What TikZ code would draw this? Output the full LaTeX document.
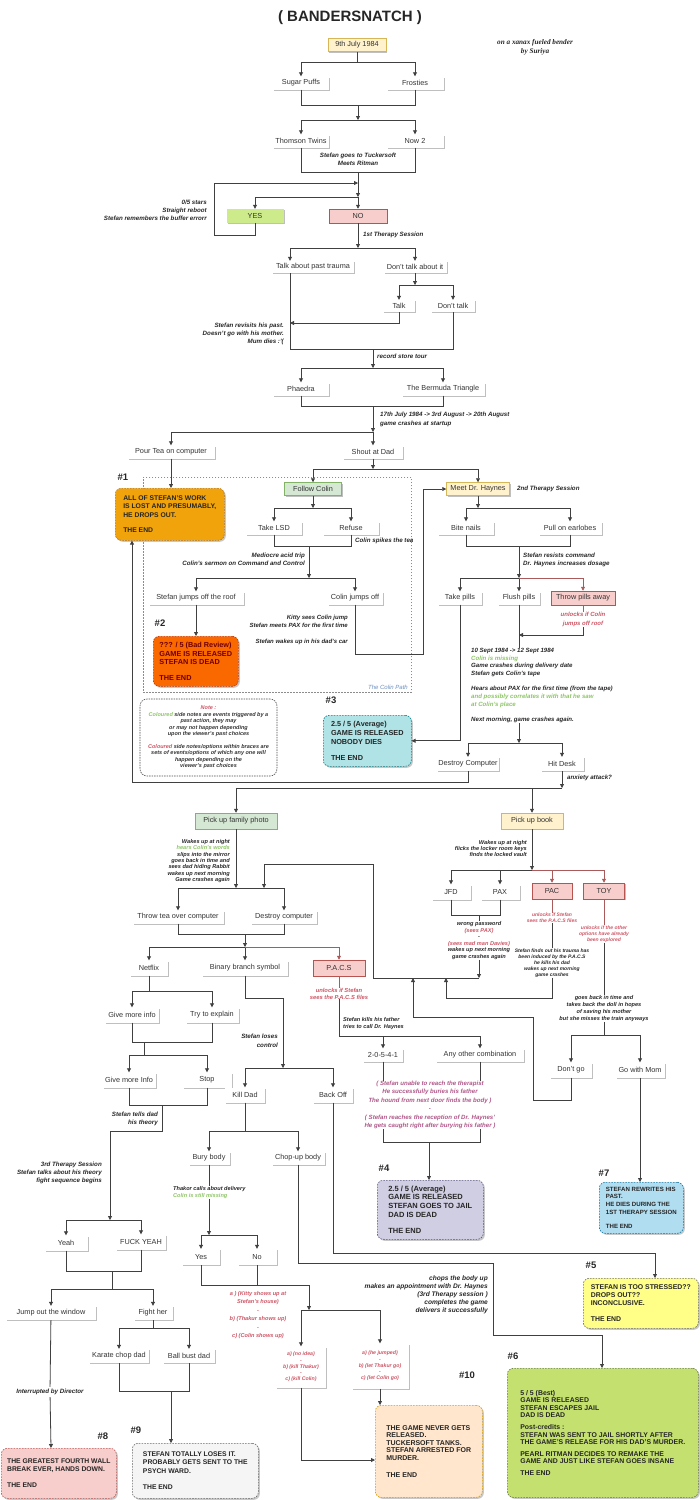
\documentclass[tikz,border=0pt]{standalone}
\usepackage{fontspec}
\setmainfont{Liberation Sans}
\newfontfamily\signfont{Liberation Serif}
\usepackage{xcolor}
\usepackage{tikz}
\usetikzlibrary{arrows.meta,shadows}
\definecolor{yelF}{RGB}{255,242,204}
\definecolor{yelD}{RGB}{214,182,86}
\definecolor{grnF}{RGB}{213,232,212}
\definecolor{grnD}{RGB}{130,179,102}
\definecolor{pkF}{RGB}{248,206,204}
\definecolor{pkD}{RGB}{184,84,80}
\definecolor{limeF}{RGB}{205,235,139}
\definecolor{arrowred}{RGB}{170,90,90}
\definecolor{greent}{RGB}{140,196,100}
\definecolor{pinkt}{RGB}{205,85,100}
\definecolor{mauve}{RGB}{175,85,135}
\definecolor{bluet}{RGB}{108,142,191}
\definecolor{c1F}{RGB}{240,163,10}
\definecolor{c1D}{RGB}{189,112,0}
\definecolor{c2F}{RGB}{250,104,0}
\definecolor{c2D}{RGB}{199,53,0}
\definecolor{c2T}{RGB}{111,0,0}
\definecolor{c3F}{RGB}{176,227,230}
\definecolor{c3D}{RGB}{14,128,136}
\definecolor{c4F}{RGB}{208,206,226}
\definecolor{c4D}{RGB}{86,81,126}
\definecolor{c5F}{RGB}{255,255,136}
\definecolor{c5D}{RGB}{110,110,90}
\definecolor{c6F}{RGB}{196,225,112}
\definecolor{c6D}{RGB}{100,120,60}
\definecolor{c7F}{RGB}{177,221,240}
\definecolor{c7D}{RGB}{16,115,158}
\definecolor{c9F}{RGB}{245,245,245}
\definecolor{c9D}{RGB}{102,102,102}
\definecolor{c10F}{RGB}{255,230,204}
\definecolor{c10D}{RGB}{215,155,0}

\begin{document}
\begin{tikzpicture}[x=1pt,y=-1pt,
  n/.style={rectangle,fill=white,minimum height=13pt,inner sep=1pt,text=black!80,font=\fontsize{7.3}{8.5}\selectfont,drop shadow={shadow xshift=1.2pt,shadow yshift=-1.2pt,fill=black!25,opacity=1}},
  ny/.style={n,fill=yelF,draw=yelD,line width=0.5pt},
  ng/.style={n,fill=grnF,draw=grnD,line width=0.5pt},
  np/.style={n,fill=pkF,draw=pkD,line width=0.5pt},
  e/.style={rectangle,rounded corners=6pt,draw,line width=0.6pt,dash pattern=on 1.6pt off 1.2pt,anchor=north west,align=left,inner sep=3pt,text=black!85,drop shadow={shadow xshift=1.5pt,shadow yshift=-1.5pt,fill=black!22,opacity=1}},
  a/.style={-{Triangle[length=4pt,width=4pt]},line width=0.8pt,draw=black!75},
  l/.style={line width=0.8pt,draw=black!75},
  ar/.style={a,draw=arrowred},
  lr/.style={l,draw=arrowred},
  t/.style={inner sep=0pt,text=black!85,font=\bfseries\itshape\fontsize{6.2}{8}\selectfont},
  ts/.style={inner sep=0pt,text=black!85,font=\bfseries\itshape\fontsize{5.6}{6.4}\selectfont},
  tx/.style={inner sep=0pt,text=black!85,font=\bfseries\itshape\fontsize{5}{6}\selectfont},
  h/.style={inner sep=0pt,text=black!85,font=\bfseries\fontsize{9.5}{10}\selectfont}
]
\useasboundingbox (0,0) rectangle (700,1500);

\node[font=\bfseries\fontsize{15}{18}\selectfont,text=black!85] (title) at (350,18) {( BANDERSNATCH )};
\node[font=\signfont\bfseries\itshape\fontsize{7.2}{9}\selectfont,align=center,text=black!85] (sign) at (535,47.5) {on a xanax fueled bender\\by Suriya};

\node[ny,minimum width=58] (july) at (357,45) {9th July 1984};
\node[n,minimum width=56] (sugar) at (301,83) {Sugar Puffs};
\node[n,minimum width=57] (frost) at (415,83) {Frosties};
\node[n,minimum width=56] (thomson) at (301,141) {Thomson Twins};
\node[n,minimum width=57] (now2) at (415,141) {Now 2};
\node[n,fill=limeF,minimum width=57,minimum height=14] (yes) at (255,216) {YES};
\node[np,minimum width=58,minimum height=14] (no) at (358,216) {NO};
\node[n,minimum width=82,minimum height=12] (trauma) at (313,267) {Talk about past trauma};
\node[n,minimum width=63,minimum height=12] (notalk) at (415,267) {Don't talk about it};
\node[n,minimum width=32,minimum height=12] (talk) at (399,306) {Talk};
\node[n,minimum width=44,minimum height=12] (donttalk) at (453,306) {Don't talk};
\node[n,minimum width=56] (phaedra) at (301,389) {Phaedra};
\node[n,minimum width=83] (bermuda) at (443,389) {The Bermuda Triangle};
\node[n,minimum width=87] (pourtea) at (171,452) {Pour Tea on computer};
\node[n,minimum width=60] (shout) at (373,452) {Shout at Dad};

\node[draw=black!45,dash pattern=on 1.5pt off 1.5pt,line width=0.6pt,minimum width=268,minimum height=215,anchor=north west,inner sep=0pt] (colinpath) at (143,477) {};
\node[inner sep=0pt,anchor=east,text=bluet,font=\itshape\fontsize{6}{7}\selectfont] (pathlbl) at (408,687) {The Colin Path};

\node[ng,minimum width=57] (follow) at (313,489) {Follow Colin};
\node[ny,minimum width=63] (haynes) at (478,489) {Meet Dr. Haynes};
\node[n,minimum width=56] (lsd) at (274,528) {Take LSD};
\node[n,minimum width=56] (refuse) at (351,528) {Refuse};
\node[n,minimum width=95] (jumproof) at (196,598) {Stefan jumps off the roof};
\node[n,minimum width=55] (colinjump) at (355,598) {Colin jumps off};
\node[n,minimum width=56] (bite) at (466,528) {Bite nails};
\node[n,minimum width=63] (pull) at (570,528) {Pull on earlobes};
\node[n,minimum width=44] (takep) at (460,598) {Take pills};
\node[n,minimum width=42] (flush) at (519,598) {Flush pills};
\node[np,minimum width=64,minimum height=14] (throwp) at (583,598) {Throw pills away};
\node[n,minimum width=62,minimum height=14] (destroyC) at (468,764) {Destroy Computer};
\node[n,minimum width=43,minimum height=14] (hitdesk) at (562,764) {Hit Desk};

\node[ng,minimum width=82,minimum height=16] (photo) at (236,821) {Pick up family photo};
\node[ny,minimum width=62,minimum height=16] (book) at (532,821) {Pick up book};
\node[n,minimum width=91] (throwtea) at (178,917) {Throw tea over computer};
\node[n,minimum width=66] (destroyc2) at (284,917) {Destroy computer};
\node[n,minimum width=38,minimum height=15] (netflix) at (149,968) {Netflix};
\node[n,minimum width=86,minimum height=15] (binary) at (245,968) {Binary branch symbol};
\node[np,minimum width=52,minimum height=16] (pacs) at (339,968) {P.A.C.S};
\node[n,minimum width=39,minimum height=15] (jfd) at (451,892) {JFD};
\node[n,minimum width=39,minimum height=15] (pax) at (500,892) {PAX};
\node[np,minimum width=40,minimum height=16] (pac) at (552,891) {PAC};
\node[np,minimum width=41,minimum height=16] (toy) at (604,891) {TOY};
\node[n,minimum width=54,minimum height=15] (gmi1) at (132,1015) {Give more info};
\node[n,minimum width=53,minimum height=15] (explain) at (212,1015) {Try to explain};
\node[n,minimum width=53,minimum height=15] (gmi2) at (129,1080) {Give more Info};
\node[n,minimum width=49,minimum height=15] (stop) at (207,1080) {Stop};
\node[n,minimum width=40,minimum height=15] (killdad) at (245,1095) {Kill Dad};
\node[n,minimum width=40,minimum height=15] (backoff) at (333,1095) {Back Off};
\node[n,minimum width=40] (code) at (383,1055) {2-0-5-4-1};
\node[n,minimum width=88] (anycomb) at (480,1055) {Any other combination};
\node[n,minimum width=42,minimum height=15] (dontgo) at (571,1070) {Don't go};
\node[n,minimum width=49,minimum height=15] (gomom) at (640,1070) {Go with Mom};
\node[n,minimum width=41] (bury) at (209,1158) {Bury body};
\node[n,minimum width=53] (chop) at (298,1158) {Chop-up body};
\node[n,minimum width=43,minimum height=15] (yeah) at (66,1243) {Yeah};
\node[n,minimum width=50,minimum height=15] (fyeah) at (141,1242) {FUCK YEAH};
\node[n,minimum width=38,minimum height=16] (yes2) at (201,1257) {Yes};
\node[n,minimum width=39,minimum height=16] (no2) at (257,1257) {No};
\node[n,minimum width=90,minimum height=14] (jump) at (51,1313) {Jump out the window};
\node[n,minimum width=39,minimum height=14] (fight) at (153,1313) {Fight her};
\node[n,minimum width=60,minimum height=14] (karate) at (119,1356) {Karate chop dad};
\node[n,minimum width=52,minimum height=14] (ball) at (189,1356) {Ball bust dad};
\node[n,minimum width=50,minimum height=41,align=center,text=pinkt,font=\bfseries\itshape\fontsize{5.2}{6.2}\selectfont] (optA) at (301,1367) {a) (no idea)\\-\\b) (kill Thakur)\\-\\c) (kill Colin)};
\node[n,minimum width=57,minimum height=45,align=center,text=pinkt,font=\bfseries\itshape\fontsize{5.2}{6.2}\selectfont] (optB) at (380,1366) {a) (he jumped)\\-\\b) (let Thakur go)\\-\\c) (let Colin go)};

\node[e,fill=c1F,draw=c1D,minimum width=109,minimum height=52,font=\bfseries\fontsize{6.8}{8.5}\selectfont] (end1) at (115,488) {ALL OF STEFAN'S WORK\\IS LOST AND PRESUMABLY,\\HE DROPS OUT.\\[7pt]THE END};
\node[e,fill=c2F,draw=c2D,text=c2T,minimum width=85,minimum height=50,font=\bfseries\fontsize{7.3}{8.8}\selectfont] (end2) at (153,636) {??? / 5 (Bad Review)\\GAME IS RELEASED\\STEFAN IS DEAD\\[7pt]THE END};
\node[e,fill=c3F,draw=c3D,minimum width=88,minimum height=51,font=\bfseries\fontsize{7.3}{8.8}\selectfont] (end3) at (323,715) {2.5 / 5 (Average)\\GAME IS RELEASED\\NOBODY DIES\\[7pt]THE END};
\node[e,fill=c4F,draw=c4D,minimum width=106,minimum height=59,font=\bfseries\fontsize{7.5}{8.6}\selectfont] (end4) at (377,1180) {2.5 / 5 (Average)\\GAME IS RELEASED\\STEFAN GOES TO JAIL\\DAD IS DEAD\\[8pt]THE END};
\node[e,fill=c5F,draw=c5D,minimum width=115,minimum height=50,font=\bfseries\fontsize{6.9}{8}\selectfont] (end5) at (583,1278) {STEFAN IS TOO STRESSED??\\DROPS OUT??\\INCONCLUSIVE.\\[8pt]THE END};
\node[e,fill=c6F,draw=c6D,minimum width=191,minimum height=129,font=\bfseries\fontsize{6.9}{7.6}\selectfont] (end6) at (507,1368) {5 / 5 (Best)\\GAME IS RELEASED\\STEFAN ESCAPES JAIL\\DAD IS DEAD\\[4pt]Post-credits :\\STEFAN WAS SENT TO JAIL SHORTLY AFTER\\THE GAME'S RELEASE FOR HIS DAD'S MURDER.\\[4pt]PEARL RITMAN DECIDES TO REMAKE THE\\GAME AND JUST LIKE STEFAN GOES INSANE\\[4pt]THE END};
\node[e,fill=c7F,draw=c7D,minimum width=84,minimum height=51,font=\bfseries\fontsize{6.1}{7.7}\selectfont] (end7) at (599,1182) {STEFAN REWRITES HIS\\PAST.\\HE DIES DURING THE\\1ST THERAPY SESSION\\[7pt]THE END};
\node[e,fill=pkF,draw=pkD,minimum width=115,minimum height=50,font=\bfseries\fontsize{6.8}{8.3}\selectfont] (end8) at (1,1448) {THE GREATEST FOURTH WALL\\BREAK EVER, HANDS DOWN.\\[8pt]THE END};
\node[e,fill=c9F,draw=c9D,minimum width=126,minimum height=55,font=\bfseries\fontsize{6.8}{8.5}\selectfont] (end9) at (132,1443) {STEFAN TOTALLY LOSES IT.\\PROBABLY GETS SENT TO THE\\PSYCH WARD.\\[8pt]THE END};
\node[e,fill=c10F,draw=c10D,minimum width=107,minimum height=92,font=\bfseries\fontsize{7}{7.5}\selectfont] (end10) at (375,1405) {THE GAME NEVER GETS\\RELEASED.\\TUCKERSOFT TANKS.\\STEFAN ARRESTED FOR\\MURDER.\\[10pt]THE END};

\node[h] (h1) at (123,477) {\#1};
\node[h] (h2) at (160,623) {\#2};
\node[h] (h3) at (331,700) {\#3};
\node[h] (h4) at (384,1168) {\#4};
\node[h] (h5) at (591,1265) {\#5};
\node[h] (h6) at (513,1356) {\#6};
\node[h] (h7) at (604,1173) {\#7};
\node[h] (h8) at (103,1436) {\#8};
\node[h] (h9) at (136,1430) {\#9};
\node[h] (h10) at (467,1375) {\#10};

\node[draw=black!70,rounded corners=7pt,dash pattern=on 1.5pt off 1pt,line width=0.6pt,minimum width=137,minimum height=77,align=center,text=black!80,font=\bfseries\itshape\fontsize{5.5}{6.44}\selectfont] (note) at (208.5,737.5) {\textcolor{pinkt}{Note :}\\\textcolor{greent}{Coloured} side notes are events triggered by a\\past action, they may\\or may not happen depending\\upon the viewer's past choices\\[6.44pt]\textcolor{pinkt}{Coloured} side notes/options within braces are\\sets of events/options of which any one will\\happen depending on the\\viewer's past choices};

\node[t,align=center] (tucker) at (358,159) {Stefan goes to Tuckersoft\\Meets Ritman};
\node[t,align=right,anchor=east] (stars) at (207,210) {0/5 stars\\Straight reboot\\Stefan remembers the buffer errorr};
\node[t,anchor=west] (ther1) at (363,235) {1st Therapy Session};
\node[t,align=right,anchor=east] (revisit) at (284,334) {Stefan revisits his past.\\Doesn't go with his mother.\\Mum dies :'(};
\node[t,anchor=west] (record) at (377,356) {record store tour};
\node[t,align=left,anchor=west,font=\bfseries\itshape\fontsize{6.2}{9}\selectfont] (crash1) at (380,419.5) {17th July 1984 -> 3rd August -> 20th August\\game crashes at startup};
\node[t,anchor=west] (ther2) at (517,489) {2nd Therapy Session};
\node[t,anchor=west] (spike) at (355,541) {Colin spikes the tea};
\node[t,align=right,anchor=east] (acid) at (305,559.5) {Mediocre acid trip\\Colin's sermon on Command and Control};
\node[t,align=right,anchor=east,font=\bfseries\itshape\fontsize{6}{8}\selectfont] (kitty) at (348,621.5) {Kitty sees Colin jump\\Stefan meets PAX for the first time};
\node[t,anchor=east,font=\bfseries\itshape\fontsize{6}{8}\selectfont] (wakecar) at (348,642) {Stefan wakes up in his dad's car};
\node[t,align=left,anchor=west] (resist) at (523,559.5) {Stefan resists command\\Dr. Haynes increases dosage};
\node[t,align=center,text=pinkt,font=\bfseries\itshape\fontsize{6}{9}\selectfont] (unlock1) at (583,619.5) {unlocks if Colin\\jumps off roof};
\node[t,align=left,anchor=west,font=\bfseries\itshape\fontsize{6.1}{7.67}\selectfont] (sept) at (471,685.5) {10 Sept 1984 -> 12 Sept 1984\\\textcolor{greent}{Colin is missing}\\Game crashes during delivery date\\Stefan gets Colin's tape\\[7.67pt]Hears about PAX for the first time (from the tape)\\\textcolor{greent}{and possibly correlates it with that he saw}\\\textcolor{greent}{at Colin's place}\\[7.67pt]Next morning, game crashes again.};
\node[t,anchor=west] (anxiety) at (567,778) {anxiety attack?};
\node[ts,align=right,anchor=east] (mirror) at (230,861) {Wakes up at night\\\textcolor{greent}{hears Colin's words}\\slips into the mirror\\goes back in time and\\sees dad hiding Rabbit\\wakes up next morning\\Game crashes again};
\node[ts,align=right,anchor=east] (vault) at (527,848.5) {Wakes up at night\\flicks the locker room keys\\finds the locked vault};
\node[ts,align=center,font=\bfseries\itshape\fontsize{5.6}{6.6}\selectfont] (pwd) at (479,940.5) {wrong password\\\textcolor{pinkt}{(sees PAX)}\\-\\\textcolor{pinkt}{(sees mad man Davies)}\\wakes up next morning\\game crashes again};
\node[tx,align=center,text=pinkt] (unlock2) at (552,918) {unlocks if Stefan\\sees the P.A.C.S files};
\node[tx,align=center] (pacsnote) at (552,963) {Stefan finds out his trauma has\\been induced by the P.A.C.S\\he kills his dad\\wakes up next morning\\game crashes};
\node[tx,align=center,text=pinkt] (unlock3) at (604,934) {unlocks if the other\\options have already\\been explored};
\node[ts,align=center,font=\bfseries\itshape\fontsize{5.6}{7}\selectfont] (doll) at (604,1008.5) {goes back in time and\\takes back the doll in hopes\\of saving his mother\\but she misses the train anyways};
\node[t,align=center,text=pinkt,font=\bfseries\itshape\fontsize{5.8}{7}\selectfont] (unlock4) at (339,993.5) {unlocks if Stefan\\sees the P.A.C.S files};
\node[ts,align=left,anchor=west,font=\bfseries\itshape\fontsize{5.6}{7}\selectfont] (kills) at (343,1023.5) {Stefan kills his father\\tries to call Dr. Haynes};
\node[t,align=center,text=mauve,font=\bfseries\itshape\fontsize{6.1}{8.4}\selectfont] (opts) at (430,1105) {( Stefan unable to reach the therapist\\He successfully buries his father\\The hound from next door finds the body )\\-\\( Stefan reaches the reception of Dr. Haynes'\\He gets caught right after burying his father )};
\node[t,align=right,anchor=east,font=\bfseries\itshape\fontsize{6.2}{9}\selectfont] (loses) at (278,1040.5) {Stefan loses\\control};
\node[t,align=right,anchor=east] (tells) at (158,1119) {Stefan tells dad\\his theory};
\node[t,align=right,anchor=east] (third) at (102,1173) {3rd Therapy Session\\Stefan talks about his theory\\fight sequence begins};
\node[ts,align=left,anchor=west,font=\bfseries\itshape\fontsize{5.6}{7}\selectfont] (thakor) at (173,1192.5) {Thakor calls about delivery\\\textcolor{greent}{Colin is still missing}};
\node[ts,align=center,text=pinkt,font=\bfseries\itshape\fontsize{5.6}{8.4}\selectfont] (abc) at (258,1315) {a ) (Kitty shows up at\\Stefan's house)\\-\\b) (Thakur shows up)\\-\\c) (Colin shows up)};
\node[t,fill=white,inner ysep=2pt] (director) at (50,1392) {Interrupted by Director};
\node[t,align=right,anchor=east,font=\bfseries\itshape\fontsize{6.6}{8}\selectfont] (chops) at (488,1295) {chops the body up\\makes an appointment with Dr. Haynes\\(3rd Therapy session )\\completes the game\\delivers it successfully};

\coordinate (j1) at (357,62);
\draw[l] (july) -- (j1);
\draw[a] (j1) -| (sugar);
\draw[a] (j1) -| (frost);
\coordinate (j2) at (358,105);
\coordinate (j3) at (358,120);
\draw[l] (sugar) |- (j2);
\draw[l] (frost) |- (j2);
\draw[a] (j2) -- (j3);
\draw[a] (j3) -| (thomson);
\draw[a] (j3) -| (now2);
\coordinate (j4) at (358,172);
\coordinate (j5) at (358,183);
\coordinate (j6) at (358,197);
\draw[l] (thomson) |- (j4);
\draw[l] (now2) |- (j4);
\draw[a] (j4) -- (j6);
\draw[a] (j6) -| (yes);
\draw[a] (j6) -- (no);
\coordinate (j7) at (214,235);
\draw[a] (yes) |- (j7) |- (j5);
\coordinate (j8) at (358,248);
\coordinate (j9) at (290,349);
\draw[a] (no) -- (j8);
\draw[a] (j8) -| (trauma.north -| j9);
\draw[a] (j8) -| (notalk);
\coordinate (j10) at (415,285);
\draw[a] (notalk) -- (j10);
\draw[a] (j10) -| (talk);
\draw[a] (j10) -| (donttalk);
\coordinate (j11) at (290,323);
\draw[a] (talk) |- (j11);
\coordinate (j12) at (373,349);
\draw[l] (trauma.south -| j9) -- (j9) -- (j12);
\draw[l] (donttalk) |- (j12);
\coordinate (j13) at (373,368);
\draw[a] (j12) -- (j13);
\draw[a] (j13) -| (phaedra);
\draw[a] (j13) -| (bermuda);
\coordinate (j14) at (373,406);
\coordinate (j15) at (373,432);
\draw[l] (phaedra) |- (j14);
\draw[l] (bermuda) |- (j14);
\draw[a] (j14) -- (j15);
\draw[a] (j15) -| (pourtea);
\draw[a] (j15) -- (shout);
\draw[a] (pourtea) -- (pourtea |- end1.north);
\coordinate (j16) at (373,469);
\draw[a] (shout) -- (j16);
\draw[a] (j16) -| (follow);
\draw[a] (j16) -| (haynes);

\coordinate (j17) at (313,508);
\draw[a] (follow) -- (j17);
\draw[a] (j17) -| (lsd);
\draw[a] (j17) -| (refuse);
\coordinate (j18) at (309,546);
\coordinate (j19) at (309,578);
\draw[l] (lsd) |- (j18);
\draw[l] (refuse) |- (j18);
\draw[a] (j18) -- (j19);
\draw[a] (j19) -| (jumproof);
\draw[a] (j19) -| (colinjump);
\draw[a] (jumproof) -- (jumproof |- end2.north);
\coordinate (j20) at (423,654);
\draw[a] (colinjump) |- (j20) |- (haynes);

\coordinate (j21) at (478,508);
\draw[a] (haynes) -- (j21);
\draw[a] (j21) -| (bite);
\draw[a] (j21) -| (pull);
\coordinate (j22) at (519,546);
\coordinate (j23) at (519,578);
\draw[l] (bite) |- (j22);
\draw[l] (pull) |- (j22);
\draw[a] (j22) -- (j23);
\draw[a] (j23) -| (takep);
\draw[a] (j23) -- (flush);
\draw[ar] (j23) -| (throwp);
\draw[lr] (throwp) -- (unlock1);
\coordinate (j24) at (519,635);
\draw[a] (unlock1.south -| throwp) |- (j24);
\draw[l] (flush) -- (flush |- sept.north);
\coordinate (j25) at (519,743);
\draw[a] (sept.south -| flush) -- (j25);
\draw[a] (j25) -| (destroyC);
\draw[a] (j25) -| (hitdesk);
\draw[a] (takep) |- (end3);
\coordinate (j26) at (132,782);
\draw[a] (destroyC) |- (j26) -- (j26 |- end1.south);
\coordinate (j27) at (562,788);
\draw[a] (hitdesk) -- (j27);
\draw[a] (j27) -| (photo);
\draw[a] (j27) -| (book);

\coordinate (j28) at (236,888);
\draw[a] (photo) -- (j28);
\draw[a] (j28) -| (throwtea);
\draw[a] (j28) -| (destroyc2);
\coordinate (j29) at (264,864);
\coordinate (j30) at (373,864);
\coordinate (j31) at (373,978);
\coordinate (j32) at (479,978);
\draw[a] (j32) -- (j31) -- (j30) -- (j29) -- (j29 |- j28);
\coordinate (j33) at (245,934);
\coordinate (j34) at (245,947);
\draw[l] (throwtea) |- (j33);
\draw[l] (destroyc2) |- (j33);
\draw[a] (j33) -- (j34);
\draw[a] (j34) -| (netflix);
\draw[a] (j34) -- (binary);
\draw[ar] (j34) -| (pacs);

\coordinate (j35) at (149,991);
\draw[l] (netflix) -- (j35);
\draw[a] (j35) -| (gmi1);
\draw[a] (j35) -| (explain);
\coordinate (j36) at (144,1042);
\coordinate (j37) at (144,1055);
\draw[l] (gmi1) |- (j36);
\draw[l] (explain) |- (j36);
\draw[l] (j36) -- (j37);
\draw[a] (j37) -| (gmi2);
\draw[a] (j37) -| (stop);
\coordinate (j38) at (162,1105);
\coordinate (j39) at (110,1131);
\coordinate (j40) at (110,1220);
\draw[l] (gmi2) |- (j38);
\draw[l] (stop) |- (j38);
\draw[a] (j38) |- (j39) -- (j40);
\draw[a] (j40) -| (yeah);
\draw[a] (j40) -| (fyeah);
\coordinate (j41) at (112,1271);
\coordinate (j42) at (112,1289);
\draw[l] (yeah) |- (j41);
\draw[l] (fyeah) |- (j41);
\draw[l] (j41) -- (j42);
\draw[a] (j42) -| (jump);
\draw[a] (j42) -| (fight);
\draw[l] (jump) -- (director);
\draw[a] (director) -- (jump |- end8.north);
\coordinate (j43) at (153,1328);
\draw[l] (fight) -- (j43);
\draw[a] (j43) -| (karate);
\draw[a] (j43) -| (ball);
\coordinate (j44) at (171,1391);
\draw[l] (karate) |- (j44);
\draw[l] (ball) |- (j44);
\draw[a] (j44) -- (j44 |- end9.north);

\coordinate (j45) at (283,998);
\coordinate (j46) at (283,1068);
\draw[l] (binary) |- (j45);
\draw[a] (j45) -- (j46);
\draw[a] (j46) -| (killdad);
\draw[a] (j46) -| (backoff);
\coordinate (j47) at (245,1131);
\draw[l] (killdad) -- (j47);
\draw[a] (j47) -| (bury);
\draw[a] (j47) -| (chop);
\coordinate (j48) at (209,1235);
\draw[l] (bury) -- (bury |- thakor.north);
\draw[a] (bury |- thakor.south) -- (j48);
\draw[a] (j48) -| (yes2);
\draw[a] (j48) -| (no2);
\coordinate (j49) at (309,1285);
\coordinate (j50) at (309,1310);
\draw[l] (yes2) |- (j49);
\draw[l] (no2) -- (no2 |- j49);
\draw[a] (j49) -- (j50);
\draw[a] (j50) -| (optA);
\draw[a] (j50) -| (optB);
\coordinate (j51) at (301,1460);
\draw[a] (optA) -- (j51) -- (j51 -| end10.west);
\draw[a] (optB) -- (optB |- end10.north);
\coordinate (j52) at (493,1263);
\coordinate (j53) at (602,1335);
\draw[a] (chop) |- (j52) |- (j53) -- (j53 |- end6.north);
\coordinate (j54) at (655,1253);
\draw[a] (backoff) |- (j54) -- (j54 |- end5.north);

\draw[lr] (pacs) -- (unlock4);
\coordinate (j55) at (339,1036);
\draw[l] (unlock4.south -| pacs) -- (j55);
\draw[a] (j55) -| (code);
\draw[a] (j55) -| (anycomb);
\coordinate (j56) at (429,1142);
\draw[l] (code) -- (code |- opts.north);
\draw[l] (anycomb) -- (anycomb |- opts.north);
\draw[l] (code |- opts.south) |- (j56);
\draw[l] (anycomb |- opts.south) |- (j56);
\draw[a] (j56) -- (j56 |- end4.north);

\coordinate (j57) at (532,870);
\draw[a] (book) -- (j57);
\draw[a] (j57) -| (jfd);
\draw[a] (j57) -| (pax);
\draw[ar] (j57) -| (pac);
\draw[ar] (j57) -| (toy);
\coordinate (j58) at (479,915);
\draw[l] (jfd) |- (j58);
\draw[l] (pax) |- (j58);
\draw[l] (j58) -- (pwd);
\draw[a] (pwd.south -| j58) -- (j32);
\draw[lr] (pac) -- (unlock2);
\draw[l] (unlock2) -- (pacsnote);
\coordinate (j59) at (446,998);
\draw[a] (pacsnote.south -| pac) |- (j59) -- (j59 |- j32);
\draw[lr] (toy) -- (unlock3);
\draw[l] (unlock3) -- (doll);
\coordinate (j60) at (604,1035);
\draw[l] (doll) -- (j60);
\draw[a] (j60) -| (dontgo);
\draw[a] (j60) -| (gomom);
\coordinate (j61) at (533,1100);
\coordinate (j62) at (413,1017);
\draw[a] (dontgo) |- (j61) |- (j62) -- (j62 |- j32);
\draw[a] (gomom) -- (gomom |- end7.north);
\end{tikzpicture}
\end{document}
